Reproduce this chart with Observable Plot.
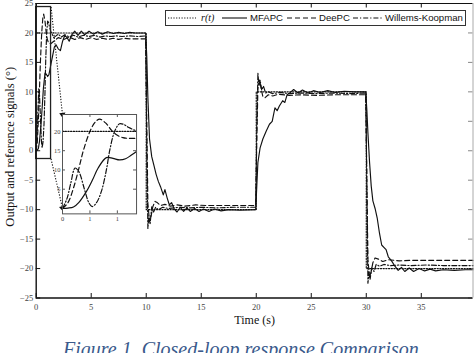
<!DOCTYPE html>
<html><head><meta charset="utf-8">
<script src="https://cdn.jsdelivr.net/npm/d3@7"></script>
<script src="https://cdn.jsdelivr.net/npm/@observablehq/plot@0.6"></script>
<style>
body{margin:0;background:#fff}
#wrap{position:relative;width:474px;height:353px;overflow:hidden;background:#fff}
#main{position:absolute;left:0;top:0}
#inset{position:absolute}
#legend{position:absolute;left:165px;top:10px;width:299px;height:14px;border:1px solid #333;background:#fff;font-family:"Liberation Sans",Arial,sans-serif;font-size:9.6px;color:#111;white-space:nowrap}
#legend .el{position:absolute;top:0;height:14px;line-height:14px}
#legend svg{position:absolute;top:4px}
#caption{position:absolute;left:63px;top:338.5px;font-family:"Liberation Serif",serif;font-style:italic;font-size:20px;line-height:20px;color:#3a5a8c;white-space:nowrap}
</style></head>
<body>
<div id="wrap"><div id="main"></div><div id="inset"></div><div id="legend"></div>
<div id="caption">Figure 1. Closed-loop response Comparison</div></div>
<script>
// ---- data ----
const xTicks = [0, 5, 10, 15, 20, 25, 30, 35];
const yTicks = [-25, -20, -15, -10, -5, 0, 5, 10, 15, 20, 25];
const insetXTicks = [0, 0.5, 1];
const insetYTicks = [5, 10, 15, 20];
const xDomain = [0, 39.7];
const yDomain = [-25, 25];
const zoomX = [0, 1.35];          // zoomed region
const zoomY = [-1.4, 24.4];
const insetPlace = {x1: 2.39, x2: 9.12, y1: -10.75, y2: 6.12}; // inset placement (main data units)

const reference = [[0,20],[10,-10],[20,10],[30,-20],[39.7,-20]];
const mfapc = [[0,0],[0.1,0.1],[0.2,0.4],[0.3,1.6],[0.44,4.5],[0.55,7.5],[0.65,10.5],[0.8,13.2],[0.92,13.0],[1.04,12.6],[1.15,12.9],[1.25,13.8],[1.35,14.8],
 [1.5,16.2],[1.65,17.6],[1.8,18.0],[2.0,17.3],[2.2,17.0],[2.4,18.6],[2.6,19.6],[2.8,19.2],[3.0,18.6],[3.2,19.6],[3.5,20.3],[3.8,19.6],[4.1,20.3],[4.4,19.7],[4.8,20.3],[5.2,19.8],[5.6,20.2],[6.0,19.8],[6.5,20.2],[7.0,19.9],[7.5,20.1],[8.0,19.9],[8.5,20.1],[9.0,20.0],[9.95,20.0],
 [10.05,16],[10.15,9],[10.3,2],[10.5,-1],[10.7,-2.5],[10.9,-4],[11.1,-5.2],[11.3,-6.1],[11.55,-7.5],[11.7,-6.6],[11.9,-8],[12.1,-9.2],[12.3,-8.8],[12.55,-9.9],[12.8,-10.4],[13.1,-9.6],[13.4,-10.3],[13.7,-9.7],[14.0,-10.3],[14.4,-9.8],[14.8,-10.3],[15.2,-9.9],[15.7,-10.3],[16.2,-9.9],[16.8,-10.2],[17.5,-10.0],[18.5,-10.1],[19.95,-10.0],
 [20.05,-6],[20.15,-2],[20.35,0.5],[20.6,2],[20.9,3.3],[21.2,4.5],[21.45,5],[21.7,7.3],[21.9,6.8],[22.1,7.6],[22.4,8.5],[22.6,8.2],[22.8,9.5],[23.1,9.9],[23.4,10.4],[23.8,9.8],[24.2,10.3],[24.7,9.8],[25.2,10.2],[25.8,9.9],[26.5,10.2],[27.2,9.9],[28,10.1],[29,10],[29.95,10],
 [30.05,7],[30.15,3],[30.3,-2],[30.45,-6],[30.6,-8.5],[30.8,-9.8],[31.0,-11.5],[31.2,-14],[31.4,-16],[31.6,-16.4],[31.8,-16.8],[32.0,-18],[32.3,-18.7],[32.6,-19.6],[32.9,-20.3],[33.2,-19.8],[33.5,-20.5],[33.9,-19.9],[34.3,-20.5],[34.8,-20],[35.3,-20.4],[35.8,-20.1],[36.3,-20.4],[37,-20.2],[38,-20.3],[39,-20.2],[39.7,-20.2]];
const deepc = [[0,0],[0.1,1.5],[0.2,5.3],[0.3,10.5],[0.38,15],[0.5,20],[0.6,22.5],[0.68,23.2],[0.8,22],[0.9,20.2],[1.0,19],[1.1,18.4],[1.2,18.2],[1.35,18.2],
 [1.6,18.6],[2.0,19.2],[2.5,18.9],[3.0,19.3],[3.5,18.9],[4.0,19.2],[4.5,18.9],[5.0,19.2],[5.5,18.9],[6.0,19.1],[6.5,18.9],[7.0,19.1],[7.5,18.9],[8.0,19.1],[8.5,19.0],[9.0,19.0],[9.95,19.0],
 [10.05,5],[10.15,-9],[10.3,-12],[10.45,-11],[10.6,-9.5],[10.8,-8.6],[11.0,-8.8],[11.3,-9.3],[11.7,-9.1],[12.2,-9.4],[12.8,-9.2],[13.5,-9.4],[14.5,-9.2],[15.5,-9.3],[17,-9.3],[18.5,-9.3],[19.95,-9.3],
 [20.05,2],[20.15,10.5],[20.3,12],[20.45,10.5],[20.6,9.2],[20.8,9.0],[21.1,9.5],[21.5,9.3],[22,9.6],[23,9.4],[24,9.5],[25.5,9.4],[27,9.5],[28.5,9.5],[29.95,9.5],
 [30.05,-5],[30.15,-18.5],[30.3,-21.5],[30.45,-20.5],[30.6,-19],[30.8,-18.2],[31.1,-18.4],[31.5,-18.8],[32,-18.5],[33,-18.7],[34,-18.6],[35.5,-18.6],[37,-18.6],[39.7,-18.6]];
const willemsKoopman = [[0,0],[0.08,2.5],[0.15,6.5],[0.23,10.5],[0.3,9.5],[0.4,5],[0.48,1.5],[0.54,0.5],[0.62,1.5],[0.71,4.5],[0.8,10],[0.86,15],[0.95,20],[1.04,22],[1.12,21.8],[1.21,21],[1.32,20.3],
 [1.45,19.8],[1.6,19.2],[1.8,19.5],[2.0,19.8],[2.3,19.3],[2.6,19.7],[3.0,19.3],[3.4,19.6],[3.8,19.3],[4.3,19.6],[4.8,19.4],[5.3,19.6],[5.8,19.3],[6.3,19.5],[6.8,19.4],[7.3,19.5],[7.8,19.4],[8.5,19.5],[9.2,19.4],[9.95,19.5],
 [10.05,0],[10.15,-13.2],[10.25,-11],[10.35,-12.5],[10.5,-9.5],[10.65,-10.5],[10.85,-9.6],[11.1,-10],[11.5,-9.6],[12,-9.8],[13,-9.6],[14,-9.7],[15,-9.6],[16.5,-9.7],[18,-9.6],[19.95,-9.6],
 [20.05,4],[20.15,13.2],[20.25,11],[20.35,12],[20.5,10.3],[20.65,11],[20.85,9.8],[21.1,10],[21.5,9.7],[22.2,9.9],[23,9.7],[24,9.8],[25.5,9.7],[27,9.8],[28.5,9.7],[29.95,9.8],
 [30.05,-5],[30.15,-22.5],[30.25,-20.5],[30.35,-21.8],[30.5,-19.8],[30.7,-20.5],[30.9,-19.3],[31.2,-19.6],[31.6,-19.3],[32.2,-19.5],[33,-19.4],[34,-19.5],[35.5,-19.4],[37,-19.5],[39.7,-19.5]];

const series = [
  {name: "MFAPC", data: mfapc, dash: null, curve: "linear"},
  {name: "DeePC", data: deepc, dash: "5,3", curve: "linear"},
  {name: "Willems-Koopman", data: willemsKoopman, dash: "5,2,1.2,2", curve: "linear"},
  {name: "r(t)", data: reference, dash: "1.2,1.5", curve: "step-after"}
];
const legendOrder = ["r(t)", "MFAPC", "DeePC", "Willems-Koopman"];

// ---- layout ----
const W = 474, H = 330, mL = 35.7, mR = 1.5, mT = 3, mB = 32.5;
const innerW = W - mL - mR, innerH = H - mT - mB;
const kx = innerW / (xDomain[1] - xDomain[0]), ky = innerH / (yDomain[1] - yDomain[0]);
const serif = "Liberation Serif";
const ink = "#111";

function arrowAngle(a, b) { // screen-space angle for a triangle pointing from a to b
  const dx = (b[0] - a[0]) * kx, dy = -(b[1] - a[1]) * ky;
  return Math.atan2(dx, -dy) * 180 / Math.PI;
}
const arrows = [
  {from: [zoomX[1], zoomY[1]], to: [insetPlace.x1, insetPlace.y2]},
  {from: [zoomX[1], zoomY[0]], to: [insetPlace.x1, insetPlace.y1 + 1.0]}
];
arrows.forEach(a => a.angle = arrowAngle(a.from, a.to));

const main = Plot.plot({
  width: W, height: H, marginLeft: mL, marginRight: mR, marginTop: mT, marginBottom: mB,
  x: {domain: xDomain}, y: {domain: yDomain},
  style: {fontFamily: serif, fontSize: "8.5px", background: "transparent", color: "#444"},
  marks: [
    Plot.axisX(xTicks, {tickSize: 0, tickPadding: 5.5, fill: "#444", label: null, fontFamily: serif}),
    Plot.axisY(yTicks, {tickSize: 0, tickPadding: 3, fill: "#444", label: null, fontFamily: serif}),
    Plot.tickX(xTicks, {x: d => d, insetTop: innerH - 4.5, stroke: ink}),
    Plot.tickX(xTicks, {x: d => d, insetBottom: innerH - 4.5, stroke: ink}),
    Plot.tickY(yTicks, {y: d => d, insetRight: innerW - 4.5, stroke: ink}),
    Plot.tickY(yTicks, {y: d => d, insetLeft: innerW - 4.5, stroke: "#888"}),
    ...series.map(s => Plot.line(s.data, {x: d => d[0], y: d => d[1], stroke: ink, strokeWidth: 1.15,
      strokeDasharray: s.dash, curve: s.curve})),
    Plot.rect([{}], {x1: zoomX[0], x2: zoomX[1], y1: zoomY[0], y2: zoomY[1], fill: "none", stroke: "#222", strokeWidth: 1.3}),
    Plot.link(arrows, {x1: d => d.from[0], y1: d => d.from[1], x2: d => d.to[0], y2: d => d.to[1],
      stroke: ink, strokeWidth: 1.1, strokeDasharray: "1.2,1.6"}),
    Plot.dot(arrows, {x: d => d.to[0], y: d => d.to[1], symbol: "triangle2", r: 3, fill: ink, rotate: d => d.angle}),
    Plot.ruleX([xDomain[0]], {stroke: ink, strokeWidth: 1.4}),
    Plot.ruleY([yDomain[0]], {stroke: ink, strokeWidth: 1.4}),
    Plot.ruleY([yDomain[1]], {stroke: ink, strokeWidth: 1}),
    Plot.ruleX([xDomain[1]], {stroke: "#aaa", strokeWidth: 1}),
    Plot.text(["Time (s)"], {frameAnchor: "bottom", dy: 26, fontSize: 12, fill: ink, fontFamily: serif}),
    Plot.text(["Output and reference signals (°)"], {frameAnchor: "left", textAnchor: "middle", dx: -26, dy: -4, rotate: -90, fontSize: 12.5, fill: ink, fontFamily: serif})
  ]
});
document.getElementById("main").appendChild(main);

// ---- inset ----
const iL = 14, iR = 2, iT = 2, iB = 10;
const pxL = mL + (insetPlace.x1 - xDomain[0]) * kx;
const pxR = mL + (insetPlace.x2 - xDomain[0]) * kx;
const pyT = mT + (yDomain[1] - insetPlace.y2) * ky;
const pyB = mT + (yDomain[1] - insetPlace.y1) * ky;
const iW = pxR - pxL, iH = pyB - pyT;
const insetEl = document.getElementById("inset");
insetEl.style.left = (pxL - iL) + "px";
insetEl.style.top = (pyT - iT) + "px";
const within = d => d[0] >= zoomX[0] && d[0] <= zoomX[1];
const inset = Plot.plot({
  width: iW + iL + iR, height: iH + iT + iB, marginLeft: iL, marginRight: iR, marginTop: iT, marginBottom: iB,
  x: {domain: zoomX}, y: {domain: zoomY},
  style: {fontFamily: serif, fontSize: "6.5px", background: "transparent", color: "#444"},
  marks: [
    Plot.frame({fill: "white", stroke: "none"}),
    Plot.axisX(insetXTicks, {tickSize: 0, tickPadding: 3, fill: "#444", label: null, fontFamily: serif}),
    Plot.axisY(insetYTicks, {tickSize: 0, tickPadding: 2, fill: "#444", label: null, fontFamily: serif}),
    Plot.tickX(insetXTicks, {x: d => d, insetTop: iH - 3, stroke: "#555"}),
    Plot.tickX(insetXTicks, {x: d => d, insetBottom: iH - 3, stroke: "#555"}),
    Plot.tickY(insetYTicks, {y: d => d, insetRight: iW - 3, stroke: "#555"}),
    Plot.tickY(insetYTicks, {y: d => d, insetLeft: iW - 3, stroke: "#555"}),
    ...series.map(s => Plot.line(s.curve === "step-after" ? s.data : s.data.filter(within),
      {x: d => d[0], y: d => d[1], stroke: ink, strokeWidth: 1.2, strokeDasharray: s.dash,
       curve: s.curve === "step-after" ? "step-after" : "catmull-rom", clip: true})),
    Plot.frame({stroke: "#555", strokeWidth: 1})
  ]
});
insetEl.appendChild(inset);

// ---- legend (sample and label offsets within the box, px) ----
const legendSlots = [
  {sample: 2, sampleW: 28, label: 35},
  {sample: 56, sampleW: 25, label: 84},
  {sample: 121, sampleW: 30, label: 153},
  {sample: 187, sampleW: 30, label: 219}
];
const leg = document.getElementById("legend");
legendOrder.forEach((nm, i) => {
  const s = series.find(q => q.name === nm), slot = legendSlots[i];
  const sv = `<svg style="left:${slot.sample}px" width="${slot.sampleW}" height="6"><line x1="0" x2="${slot.sampleW}" y1="3" y2="3" stroke="#111" stroke-width="1.1" ${s.dash ? `stroke-dasharray="${s.dash}"` : ""}/></svg>`;
  const lab = nm === "r(t)"
    ? `<span class="el" style="left:${slot.label}px;font-family:'Liberation Serif',serif;font-style:italic;font-size:10px">r(t)</span>`
    : `<span class="el" style="left:${slot.label}px">${nm}</span>`;
  leg.insertAdjacentHTML("beforeend", sv + lab);
});
</script>
</body></html>
